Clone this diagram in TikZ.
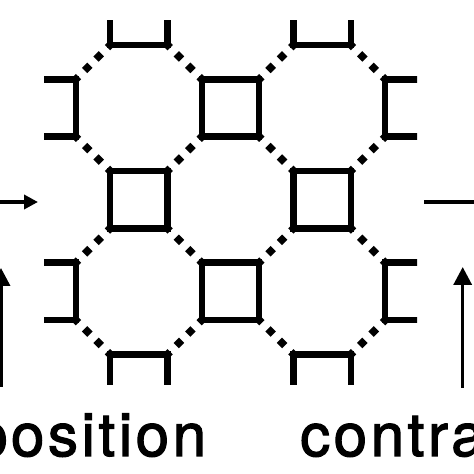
\documentclass[tikz,border=0pt]{standalone}
\usepackage{fontspec}
\setmainfont{TeX Gyre Heros}
\newfontfamily\labelfont{TeX Gyre Heros}[FakeBold=2, LetterSpace=6]
\usetikzlibrary{arrows.meta}

\tikzset{
  cell/.style={line width=6.5pt},
  bond/.style={line width=7.5pt, dash pattern=on 7.5pt off 8.67pt, dash phase=3.75pt},
  flow/.style={line width=3.5pt, -{Triangle[length=14pt,width=14pt]}},
  bigflow/.style={line width=3.5pt, -{Triangle[length=18pt,width=18pt]}},
  word/.style={font=\labelfont\fontsize{60}{72}\selectfont, anchor=base west, inner sep=0pt}
}

\begin{document}
\begin{tikzpicture}[x=1pt, y=1pt]
    \useasboundingbox (0,0) rectangle (474,474);
    \clip (0,0) rectangle (474,474);
    % square-octagon lattice
    \begin{scope}
        \clip (44,89) rectangle (417,453);
        \foreach \i in {-1,...,3} {
            \foreach \j in {-1,...,3} {
                \ifodd\numexpr\i+\j\relax
                    \coordinate (sq-\i-\j-nw) at ({110.1+91.7*\i},{394.7-91.7*\j});
                    \coordinate (sq-\i-\j-ne) at ({167.5+91.7*\i},{394.7-91.7*\j});
                    \coordinate (sq-\i-\j-se) at ({167.5+91.7*\i},{337.3-91.7*\j});
                    \coordinate (sq-\i-\j-sw) at ({110.1+91.7*\i},{337.3-91.7*\j});
                    \draw[cell] (sq-\i-\j-nw) -- (sq-\i-\j-ne) -- (sq-\i-\j-se) -- (sq-\i-\j-sw) -- cycle;
                \fi
            }
        }
        \foreach \i [evaluate=\i as \k using int(\i+1)] in {-1,...,2} {
            \foreach \j [evaluate=\j as \dn using int(\j+1),
                         evaluate=\j as \up using int(\j-1)] in {-1,...,3} {
                \ifodd\numexpr\i+\j\relax
                    \ifnum\j<3 \draw[bond] (sq-\i-\j-se) -- (sq-\k-\dn-nw); \fi
                    \ifnum\j>-1 \draw[bond] (sq-\i-\j-ne) -- (sq-\k-\up-sw); \fi
                \fi
            }
        }
    \end{scope}
    % arrows at the sides
    \coordinate (inLeft) at (-10,272);
    \coordinate (inLeftTip) at (38,272);
    \coordinate (upLeft) at (1,87);
    \coordinate (upLeftTip) at (1,206);
    \coordinate (outRight) at (424,272);
    \coordinate (outRightEnd) at (490,272);
    \coordinate (upRight) at (462.7,86);
    \coordinate (upRightTip) at (462.7,207);
    \draw[flow] (inLeft) -- (inLeftTip);
    \draw[bigflow] (upLeft) -- (upLeftTip);
    \draw[line width=3.5pt] (outRight) -- (outRightEnd);
    \draw[bigflow] (upRight) -- (upRightTip);
    % labels
    \node[word] (posLabel) at (-26.1,18) {position};
    \node[word] (conLabel) at (300,18) {contra};
\end{tikzpicture}
\end{document}
